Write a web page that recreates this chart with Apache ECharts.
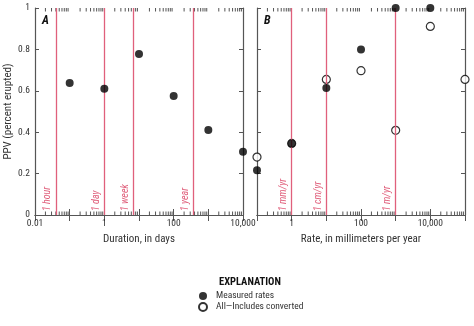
<!DOCTYPE html>
<html><head><meta charset="utf-8">
<script src="https://cdn.jsdelivr.net/npm/echarts/dist/echarts.min.js"></script>
<style>html,body{margin:0;padding:0;background:#fff}#c{width:474px;height:326px}</style>
</head><body><div id="c"></div>
<script>
// ---- data ----
const durationDays = [0.1, 1, 10, 100, 1000, 10000];
const durationMeasuredPPV = [0.638, 0.61, 0.778, 0.575, 0.411, 0.306];
const rateMm = [0.1, 1, 10, 100, 1000, 10000, 100000];
const rateMeasuredPPV = [0.216, 0.346, 0.613, 0.80, 1.0, 1.0, null];
const rateAllPPV = [0.28, 0.346, 0.655, 0.697, 0.409, 0.911, 0.655];
const durationMarks = [1/24, 1, 7, 365];
const durationMarkLabels = ['1 hour', '1 day', '1 week', '1 year'];
const rateMarks = [1, 10, 1000];
const rateMarkLabels = ['1 mm/yr', '1 cm/yr', '1 m/yr'];
const durationRange = [0.01, 10000];
const rateRange = [0.1, 100000];
const yTickLabels = ['0', '0.2', '0.4', '0.6', '0.8', '1'];
const seriesNames = ['Measured rates', 'All\u2014Includes converted'];

const FONT = '"Roboto Condensed","DejaVu Sans Condensed",sans-serif';
const AX = '#555';
const RED = '#e0607c';
const TXT = '#333';

function fmtNum(v) {
  const e = Math.round(Math.log10(v));
  const n = Math.pow(10, e);
  if (e < 0) return n.toFixed(-e);
  return n.toLocaleString('en-US');
}
function minorVals(range) {
  const out = [];
  const e0 = Math.round(Math.log10(range[0])), e1 = Math.round(Math.log10(range[1]));
  for (let e = e0; e < e1; e++) for (let k = 2; k <= 9; k++) out.push([k * Math.pow(10, e), 0]);
  return out;
}
function xAx(grid, range, pos, labelFn, name) {
  return {
    type: 'log', logBase: 10, gridIndex: grid, min: range[0], max: range[1], position: pos,
    axisLine: { show: true, lineStyle: { color: AX, width: 1.2 } },
    axisTick: { show: true, inside: true, length: 6, lineStyle: { color: AX, width: 1 } },
    axisLabel: { show: !!labelFn, formatter: labelFn || (() => ''), fontFamily: FONT, fontSize: 9.5, color: TXT, margin: 4 },
    splitLine: { show: false },
    name: name || '', nameLocation: 'middle', nameGap: 19,
    nameTextStyle: { fontFamily: FONT, fontSize: 11, color: TXT }
  };
}
function yAx(grid, pos, labels, name) {
  return {
    type: 'value', gridIndex: grid, min: 0, max: 1, interval: 0.2, position: pos,
    axisLine: { show: true, lineStyle: { color: AX, width: 1.2 } },
    axisTick: { show: true, inside: true, length: 4, lineStyle: { color: AX } },
    axisLabel: { show: labels, formatter: (v) => yTickLabels[Math.round(v / 0.2)], fontFamily: FONT, fontSize: 9.5, color: TXT, margin: 5 },
    splitLine: { show: false },
    name: name || '', nameLocation: 'middle', nameGap: 19.5, nameRotate: 90,
    nameTextStyle: { fontFamily: FONT, fontSize: 11, color: TXT }
  };
}
const labA = (v) => (Math.round(Math.log10(v)) % 2 === 0 ? fmtNum(v) : '');
const labB = (v) => { const e = Math.round(Math.log10(v)); return (e % 2 === 0 && e >= 0 && e <= 4) ? fmtNum(v) : ''; };

function minorSeries(xi, yi, range) {
  return {
    type: 'custom', xAxisIndex: xi, yAxisIndex: yi, silent: true, clip: false, z: 1,
    data: minorVals(range),
    renderItem: (params, api) => {
      const x = api.value(0);
      const p0 = api.coord([x, 0]);
      const p1 = api.coord([x, 1]);
      const st = { stroke: AX, lineWidth: 1 };
      return { type: 'group', children: [
        { type: 'line', shape: { x1: p0[0], y1: p0[1], x2: p0[0], y2: p0[1] - 3.5 }, style: st },
        { type: 'line', shape: { x1: p1[0], y1: p1[1], x2: p1[0], y2: p1[1] + 3.5 }, style: st }
      ]};
    }
  };
}
function markLines(vals, labels) {
  return {
    silent: true, symbol: 'none', animation: false,
    lineStyle: { color: RED, width: 1.3, type: 'solid' },
    label: { show: true, position: 'insideStartTop', formatter: (p) => p.name, color: RED,
      fontFamily: FONT, fontStyle: 'italic', fontSize: 10, distance: [4, 3] },
    data: vals.map((v, i) => ({ xAxis: v, name: labels[i] }))
  };
}
const filledStyle = { color: '#000' };
const openStyle = { color: '#fff', borderColor: '#000', borderWidth: 1.2 };

const option = {
  animation: false,
  backgroundColor: '#fff',
  textStyle: { fontFamily: FONT },
  grid: [
    { left: 35, top: 8, width: 208, height: 207 },
    { left: 257, top: 8, width: 208, height: 207 }
  ],
  xAxis: [
    xAx(0, durationRange, 'bottom', labA, 'Duration, in days'),
    xAx(0, durationRange, 'top', null),
    xAx(1, rateRange, 'bottom', labB, 'Rate, in millimeters per year'),
    xAx(1, rateRange, 'top', null)
  ],
  yAxis: [
    yAx(0, 'left', true, 'PPV (percent erupted)'),
    yAx(0, 'right', false),
    yAx(1, 'left', false),
    yAx(1, 'right', false)
  ],
  legend: {
    left: 198, top: 291, orient: 'vertical', padding: 0, itemWidth: 8, itemHeight: 8, itemGap: 1,
    data: [{ name: seriesNames[0], icon: 'circle' }, { name: seriesNames[1], icon: 'circle' }],
    textStyle: { fontFamily: FONT, fontSize: 9.5, color: TXT, padding: [0, 0, 0, 4] },
    selectedMode: false
  },
  graphic: [
    { type: 'text', left: 42, top: 15, style: { text: 'A', font: 'italic bold 12px ' + FONT, fill: '#111' } },
    { type: 'text', left: 264, top: 15, style: { text: 'B', font: 'italic bold 12px ' + FONT, fill: '#111' } },
    { type: 'text', left: 219, top: 277, style: { text: 'EXPLANATION', font: 'bold 10.5px ' + FONT, fill: '#111' } }
  ],
  series: [
    minorSeries(0, 0, durationRange),
    minorSeries(2, 2, rateRange),
    {
      name: seriesNames[0], type: 'scatter', xAxisIndex: 0, yAxisIndex: 0, symbolSize: 8, clip: false, z: 5,
      itemStyle: filledStyle,
      data: durationDays.map((d, i) => [d, durationMeasuredPPV[i]]),
      markLine: markLines(durationMarks, durationMarkLabels)
    },
    {
      name: seriesNames[1], type: 'scatter', xAxisIndex: 2, yAxisIndex: 2, symbolSize: 8, clip: false, z: 4,
      itemStyle: openStyle,
      data: rateMm.map((d, i) => [d, rateAllPPV[i]])
    },
    {
      name: seriesNames[0], type: 'scatter', xAxisIndex: 2, yAxisIndex: 2, symbolSize: 8, clip: false, z: 5,
      itemStyle: filledStyle,
      data: rateMm.map((d, i) => [d, rateMeasuredPPV[i]]).filter(p => p[1] != null),
      markLine: markLines(rateMarks, rateMarkLabels)
    }
  ]
};
const chart = echarts.init(document.getElementById('c'), null, { renderer: 'canvas' });
chart.setOption(option);
</script>
</body></html>
